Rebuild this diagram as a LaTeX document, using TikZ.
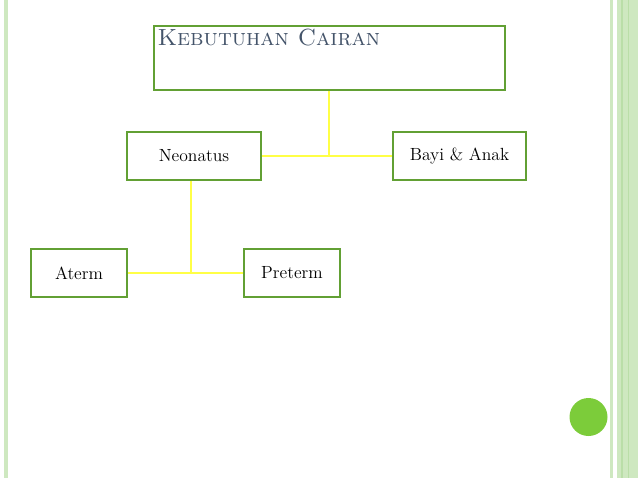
\documentclass[tikz,border=0pt]{standalone}
\usetikzlibrary{positioning}

\definecolor{boxgreen}{RGB}{98,160,52}
\definecolor{linkyellow}{RGB}{255,255,70}
\definecolor{stripe}{RGB}{206,232,192}
\definecolor{stripedark}{RGB}{186,222,168}
\definecolor{dotgreen}{RGB}{124,204,58}
\definecolor{titleslate}{RGB}{68,84,106}

\tikzset{every picture/.style={line width=0.75pt}}
\tikzset{
  itembox/.style={draw=boxgreen, line width=1.5pt, fill=white, inner sep=0pt, minimum height=36pt, font=\fontsize{13.2}{16}\selectfont},
  link/.style={draw=linkyellow, line width=0.9pt}
}

\begin{document}
\begin{tikzpicture}[x=0.75pt,y=0.75pt,yscale=-1,xscale=1]
\useasboundingbox (0,0) rectangle (638,478);

%Side stripes
\fill [stripe] (4,0) rectangle (7.5,478);
\fill [stripe] (610,0) rectangle (613,478);
\fill [stripe] (617,0) rectangle (638,478);
\fill [stripedark] (621.3,0) rectangle (623,478);
\fill [stripedark] (628,0) rectangle (629,478);

%Shape: Circle
\fill [dotgreen] (588.5,417) circle [radius=19];

% Title box
\node [itembox, minimum width=263.25pt, minimum height=48pt] (title) at (329.5,58) {};
\node [anchor=north west, inner sep=0pt, text=titleslate, font=\fontsize{17.5}{20}\selectfont] (titletext) at (157,29) {\textsc{Kebutuhan Cairan}};

% Second level
\node [itembox, minimum width=100.5pt] (neo) at (194,156) {Neonatus};
\node [itembox, minimum width=99.75pt] (bayi) at (459.5,156) {Bayi \& Anak};

% Third level
\node [itembox, minimum width=72pt] (aterm) at (79,273) {Aterm};
\node [itembox, minimum width=72pt] (pre) at (292,273) {Preterm};

% Connectors
\coordinate (j1) at (329,156);
\coordinate (j2) at (191,273);
\draw [link] (title.south -| j1) -- (j1);
\draw [link] (neo.east) -- (bayi.west);
\draw [link] (neo.south -| j2) -- (j2);
\draw [link] (aterm.east) -- (pre.west);

\end{tikzpicture}
\end{document}
